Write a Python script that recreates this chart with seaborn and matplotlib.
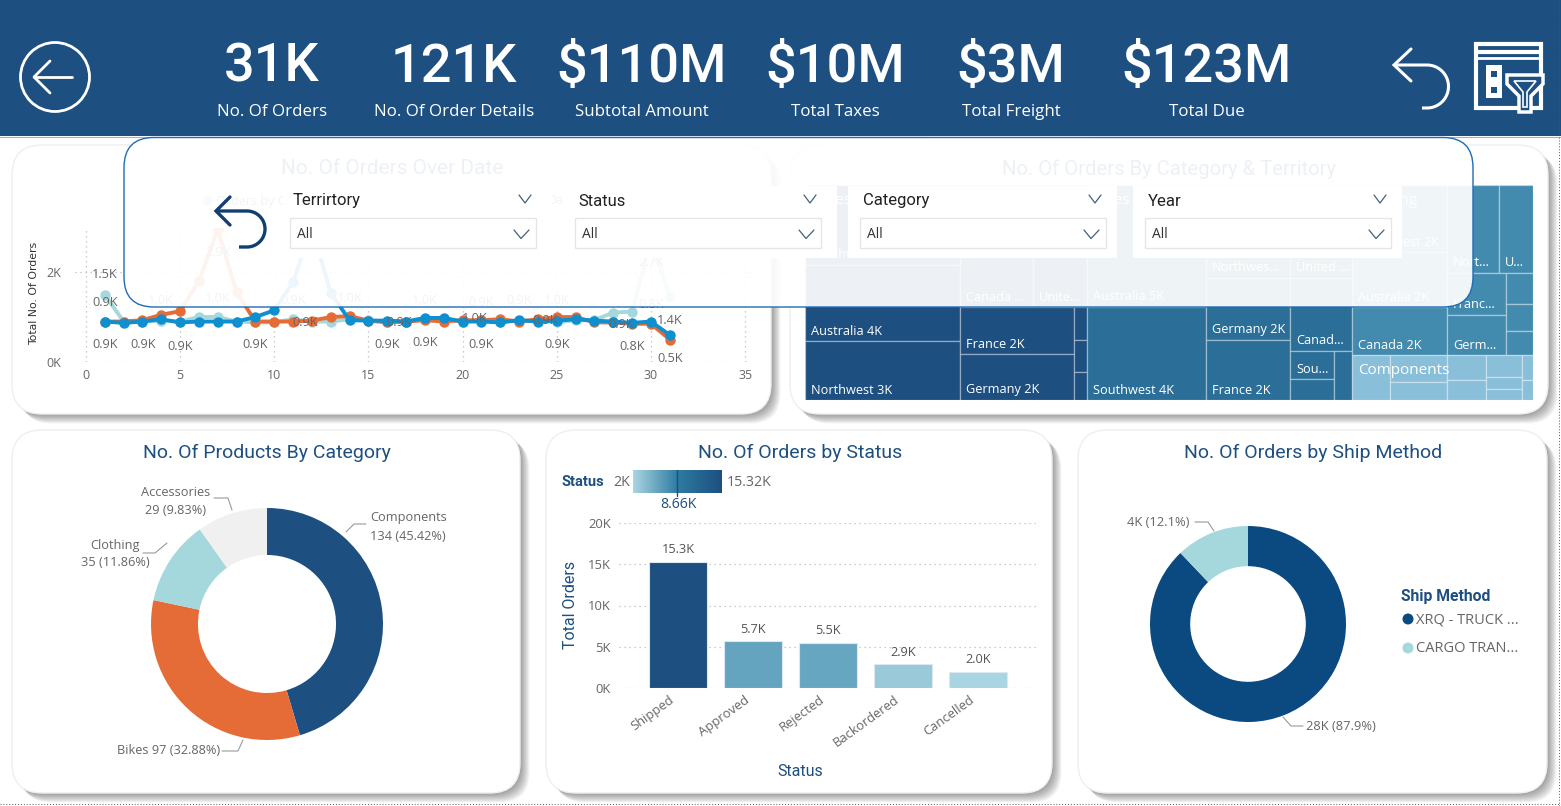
import numpy as np
import pandas as pd
import matplotlib
matplotlib.use("Agg")
import matplotlib.pyplot as plt
import seaborn as sns
from matplotlib.patches import FancyBboxPatch, Rectangle, Circle
from matplotlib.colors import LinearSegmentedColormap
from matplotlib.transforms import ScaledTranslation

W, H = 1561, 806
NAVY = "#1D4F80"
GREY = "#666666"
HEAD_FONT = "Roboto"
BODY_FONT = "Open Sans"

# KPI strip
kpi_values = ["31K", "121K", "$110M", "$10M", "$3M", "$123M"]
kpi_names = ["No. Of Orders", "No. Of Order Details", "Subtotal Amount", "Total Taxes", "Total Freight", "Total Due"]
kpi_x = [272, 454, 642, 835, 1011, 1207]

# orders per day of month
days = list(range(1, 32))
teal_orders = [1.5, .9, .9, .92, .9, 1.0, 1.0, .9, .88, .88, .95, .9, .9, .95, .93, .9, .9, .95, .95, .9, .93, .9, .92, .92, .88, .93, .93, 1.1, 1.12, 2.7, 1.45]
orange_orders = [.9, .9, .93, 1.05, 1.13, 1.8, 2.95, 1.55, .9, .9, .9, .92, 1.0, 1.02, .92, .88, .9, .93, .9, .93, .93, .95, .9, .95, 1.0, 1.0, .88, .88, .85, .85, .5]
blue_orders = [.9, .87, .9, .95, .88, .9, .9, .9, 1.0, 1.15, 1.78, 3.0, 1.53, .93, .92, .92, .9, .98, .98, .9, .9, .88, .93, .9, .92, .95, .92, .9, .87, .9, .6]
# label text, x pixel, y pixel
line_labels = [("1.5K", 105, 274), ("0.9K", 105, 303), ("1.0K", 161, 300), ("2.9K", 218, 253), ("1.0K", 218, 298),
               ("0.9K", 293, 300), ("1.0K", 350, 298), ("1.0K", 425, 300), ("0.9K", 481, 303), ("0.9K", 519, 301),
               ("1.0K", 557, 300), ("2.7K", 651, 262), ("0.8K", 651, 304), ("1.4K", 670, 320), ("0.9K", 305, 322),
               ("0.9K", 399, 322), ("1.0K", 475, 318), ("0.9K", 545, 321), ("0.9K", 621, 324), ("0.9K", 105, 344),
               ("0.9K", 143, 344), ("0.9K", 180, 346), ("0.9K", 255, 345), ("0.9K", 387, 345), ("0.9K", 425, 342),
               ("0.9K", 481, 345), ("0.9K", 557, 345), ("0.8K", 632, 347), ("0.5K", 670, 359)]

# treemap: "h"/"v" split with children, leaves are (label, orders)
accessories = ("h", [("v", [("Southwest 4K", 4133), ("Australia 4K", 3927), ("Northwest 3K", 3048)]),
                     ("v", [("h", [("Canada ...", 2969), ("Unite...", 2196)]),
                            ("h", [("v", [("France 2K", 1786), ("Germany 2K", 1748)]),
                                   ("v", [("", 143), ("", 139), ("", 121)])])])])
bikes = ("h", [("v", [("Australia 5K", 4839), ("Southwest 4K", 3689)]),
               ("v", [("h", [("Northwes...", 2604), ("United ...", 1922)]),
                      ("h", [("v", [("Germany 2K", 1736), ("France 2K", 1680)]),
                             ("v", [("Canad...", 1509),
                                    ("h", [("v", [("Sou...", 411), ("", 308)]), ("", 294)])])])])])
clothing = ("h", [("v", [("Northwest 2K", 2122), ("Australia 2K", 1742), ("Canada 2K", 1520)]),
                  ("v", [("h", [("Nort...", 1525), ("U...", 997)]),
                         ("h", [("v", [("Franc...", 826), ("Germ...", 787)]),
                                ("v", [("", 279), ("", 243), ("", 216)])])])])
components = ("h", [("", 570), ("v", [("", 513), ("", 342)]), ("v", [("", 325), ("", 260)]),
                    ("v", [("", 264), ("", 144), ("", 132)]), ("v", [("", 92), ("", 73)])])
tree_names = ["Acces", "Bikes", "Clothing", "Components"]
tree_colors = ["#1D4F80", "#2B6F98", "#438BAE", "#8ABFD9"]

# pies and bars
product_names = ["Components", "Bikes", "Clothing", "Accessories"]
product_counts = [134, 97, 35, 29]
product_colors = [NAVY, "#E66C37", "#A5D8DD", "#F0F0F0"]
status_names = ["Shipped", "Approved", "Rejected", "Backordered", "Cancelled"]
status_orders = [15320, 5700, 5500, 2900, 2000]
status_text = ["15.3K", "5.7K", "5.5K", "2.9K", "2.0K"]
status_colors = [NAVY, "#64A4BF", "#67A6C0", "#9AC9DA", "#A9D5E3"]
ship_orders = [27600, 3800]
ship_colors = ["#0B4A80", "#A5D8DD"]

sns.set_theme(style="white")
plt.rcParams["font.family"] = [BODY_FONT, "DejaVu Sans"]
fig = plt.figure(figsize=(W / 100, H / 100), dpi=100, facecolor="white")


def px_axes(left, top, right, bottom, z=1):
    ax = fig.add_axes([left / W, 1 - bottom / H, (right - left) / W, (bottom - top) / H], zorder=z)
    ax.patch.set_alpha(0)
    return ax


def layer(z):
    ax = px_axes(0, 0, W, H, z)
    ax.set_xlim(0, W)
    ax.set_ylim(H, 0)
    ax.axis("off")
    return ax


def card(ax, x0, y0, x1, y1, r=30):
    for i in range(12, 0, -1):
        ax.add_patch(FancyBboxPatch((x0 + i * .8, y0 + i * .8), x1 - x0, y1 - y0, boxstyle=f"round,pad=0,rounding_size={r}",
                                    fc="black", ec="none", alpha=.035))
    ax.add_patch(FancyBboxPatch((x0, y0), x1 - x0, y1 - y0, boxstyle=f"round,pad=0,rounding_size={r}",
                                fc="white", ec="#EFEFEF", lw=1))


def arc(cx, cy, r, a0, a1):
    t = np.radians(np.linspace(a0, a1, 40))
    return cx + r * np.cos(t), cy + r * np.sin(t)


def undo_arrow(ax, color, lw, tip, head_dx, head_dy, run, r, tail):
    x, y = tip
    ax.plot([x + head_dx, x, x + head_dx], [y - head_dy, y, y + head_dy], color=color, lw=lw, solid_capstyle="round", solid_joinstyle="miter")
    ax_, ay_ = arc(x + run, y + r, r, -90, 90)
    ax.plot(np.r_[x, ax_, x + run - tail], np.r_[y, ay_, y + 2 * r], color=color, lw=lw, solid_capstyle="butt")


bg = layer(0)
bg.add_patch(Rectangle((0, 0), W, 136, fc=NAVY, ec="none"))
bg.plot([0, 926], [136.5, 136.5], color="#9DB4CC", lw=.8)
bg.plot([1094, W], [136.5, 136.5], color="#9DB4CC", lw=.8)
bg.plot([W - 2, W - 2], [0, H], color="#555555", lw=.7, ls=(0, (1, 2)))
bg.plot([0, W], [H - 2, H - 2], color="#555555", lw=.7, ls=(0, (1, 2)))

for v, n, x in zip(kpi_values, kpi_names, kpi_x):
    bg.text(x, 67, v, color="white", ha="center", va="center", fontsize=39, family=HEAD_FONT, weight="medium")
    bg.text(x, 112, n, color="white", ha="center", va="center", fontsize=12.2)

# header icons
bg.add_patch(Circle((55, 77), 34.5, fc="none", ec="white", lw=2))
bg.plot([72, 34], [77, 77], color="white", lw=2)
bg.plot([50, 34, 50], [61, 77, 93], color="white", lw=2)
undo_arrow(bg, "white", 2.2, (1394, 65), 17, 16, 33, 21.5, 5)
bg.add_patch(Rectangle((1476, 44), 65, 64, fc="none", ec="white", lw=3))
bg.plot([1478, 1540], [52, 52], color="white", lw=3)
bg.plot([1478, 1540], [58, 58], color="white", lw=2)
bg.add_patch(Rectangle((1486, 65), 16, 33, fc="white", ec="none"))
bg.add_patch(Rectangle((1491, 71), 6, 6, fc=NAVY, ec="none"))
bg.add_patch(Rectangle((1491, 87), 6, 6, fc=NAVY, ec="none"))
bg.fill([1507, 1543, 1543, 1531, 1531, 1519, 1519, 1507], [75, 75, 84, 96, 112, 112, 96, 84], fc=NAVY, ec="white", lw=2.5, zorder=4)
bg.fill([1514, 1536, 1527, 1527, 1523, 1523], [81, 81, 92, 107, 107, 92], fc=NAVY, ec="white", lw=1.2, zorder=5)

card(bg, 12, 145, 771, 414)
card(bg, 790, 145, 1548, 414)
card(bg, 12, 430, 520, 793)
card(bg, 546, 430, 1052, 793)
card(bg, 1078, 430, 1547, 793)

title_kw = dict(color=NAVY, ha="center", va="center", family=HEAD_FONT)
bg.text(392, 169, "No. Of Orders Over Date", fontsize=15, **title_kw)
bg.text(1169, 169, "No. Of Orders By Category & Territory", fontsize=14.6, **title_kw)
bg.text(267, 453, "No. Of Products By Category", fontsize=14, **title_kw)
bg.text(800, 453, "No. Of Orders by Status", fontsize=14, **title_kw)
bg.text(1313, 453, "No. Of Orders by Ship Method", fontsize=14, **title_kw)

# line chart
ax = px_axes(75, 228, 753, 362)
for vals, col in [(teal_orders, "#A5D8DD"), (orange_orders, "#E66C37"), (blue_orders, "#0E8FD0")]:
    sns.lineplot(x=days, y=vals, ax=ax, color=col, lw=2.8, marker="o", markersize=7.5, markeredgewidth=0, zorder=3)
ax.set_xlim(-.58, 35.42)
ax.set_ylim(0, 2.98)
ax.set_xticks(range(0, 36, 5))
ax.set_yticks([0, 2], ["0K", "2K"])
ax.grid(True, color="#BBBBBB", ls=(0, (1, 3)), lw=.9)
sns.despine(ax=ax, left=True, bottom=True)
ax.tick_params(length=0, colors=GREY, labelsize=9)
ax.tick_params(axis="x", pad=5)
ax.tick_params(axis="y", pad=10)
bg.text(34, 293, "Total No. Of Orders", rotation=90, fontsize=7.8, family="DejaVu Sans", color="#333333", ha="center", va="center", zorder=1)

fg = layer(3)
for txt, x, y in line_labels:
    fg.text(x, y, txt, color=GREY, fontsize=9.2, ha="center", va="center")
# ghost legend, mostly behind the slicers
fg.add_patch(Circle((208, 201), 5, fc="#A5D8DD", ec="none"))
fg.text(216, 201, "Orders by C", color=GREY, fontsize=9, va="center")
fg.text(548, 201, "Da", color=GREY, fontsize=9, va="center")


# treemap, laid out from the order counts
def node_sum(node):
    return node[1] if not isinstance(node[1], list) else sum(node_sum(c) for c in node[1])


def layout(node, x, y, w, h, out):
    if not isinstance(node[1], list):
        out.append((node[0], x, y, w, h))
        return
    total = node_sum(node)
    for child in node[1]:
        share = node_sum(child) / total
        if node[0] == "h":
            layout(child, x, y, w * share, h, out)
            x += w * share
        else:
            layout(child, x, y, w, h * share, out)
            y += h * share


tm = px_axes(805, 185, 1533, 400)
tm.axis("off")
tm.set_xlim(0, 728)
tm.set_ylim(215, 0)
totals = [node_sum(n) for n in (accessories, bikes, clothing, components)]
scale_x = 728 / sum(totals)
right_w = (totals[2] + totals[3]) * scale_x
groups = [(accessories, 0, 0, totals[0] * scale_x, 215),
          (bikes, totals[0] * scale_x, 0, totals[1] * scale_x, 215),
          (clothing, 728 - right_w, 0, right_w, 215 * totals[2] / (totals[2] + totals[3])),
          (components, 728 - right_w, 215 * totals[2] / (totals[2] + totals[3]), right_w, 215 * totals[3] / (totals[2] + totals[3]))]
for (node, x, y, w, h), name, col in zip(groups, tree_names, tree_colors):
    cells = []
    layout(node, x, y, w, h, cells)
    for label, cx, cy, cw, ch in cells:
        tm.add_patch(Rectangle((cx, cy), cw, ch, fc=col, ec=(1, 1, 1, .3), lw=1))
        if label:
            tm.text(cx + 6, cy + ch - 10, label, color="white", fontsize=9.2, va="center")
    tm.text(x + 6, y + 15, name, color="white", fontsize=11, va="center")

# product donut
ax = px_axes(151, 508, 383, 740)
ax.pie(product_counts, colors=product_colors, startangle=90, counterclock=False, radius=1, wedgeprops=dict(width=.405, lw=0))
ax.set_xlim(-1, 1)
ax.set_ylim(-1, 1)
for txt, x, y, ha in [("Components", 370, 518, "left"), ("134 (45.42%)", 370, 536, "left"), ("Accessories", 176, 492, "center"),
                      ("29 (9.83%)", 176, 510, "center"), ("Clothing", 115, 545, "center"), ("35 (11.86%)", 115, 563, "center"),
                      ("Bikes 97 (32.88%)", 117, 751, "left")]:
    fg.text(x, y, txt, color=GREY, fontsize=9.2, ha=ha, va="center")
for xs, ys in [([346, 354, 366], [532, 524, 524]), ([214, 228, 232], [498, 498, 510]),
               ([143, 155, 167], [553, 553, 543]), ([222, 238, 243], [751, 751, 740])]:
    fg.plot(xs, ys, color="#999999", lw=.8)

# status bars
df_status = pd.DataFrame({"Status": status_names, "Orders": status_orders})
ax = px_axes(619, 523, 1037, 688)
sns.barplot(data=df_status, x="Status", y="Orders", hue="Status", palette=status_colors, legend=False, width=.78, ax=ax, saturation=1, edgecolor="#DCE8F0", linewidth=.8, zorder=3)
ax.set_xlim(-.787, 4.787)
ax.set_ylim(0, 20000)
ax.set_yticks([0, 5000, 10000, 15000, 20000], ["0K", "5K", "10K", "15K", "20K"])
ax.set_xticks(range(5), status_names, rotation=36, ha="right", rotation_mode="anchor", fontsize=9.2, color="#555555")
ax.grid(True, axis="y", color="#BBBBBB", ls=(0, (1, 3)), lw=.9)
ax.grid(False, axis="x")
sns.despine(ax=ax, left=True, bottom=True)
ax.tick_params(length=0, colors=GREY, labelsize=9.4, pad=6)
ax.set_xlabel("")
ax.set_ylabel("")
shift = ScaledTranslation(-9 / 100, 3 / 100, fig.dpi_scale_trans)
for lab in ax.get_xticklabels():
    lab.set_transform(lab.get_transform() + shift)
for i, (v, t) in enumerate(zip(status_orders, status_text)):
    ax.text(i, v + 650, t, color="#555555", ha="center", va="bottom", fontsize=9.2)
fg.text(800, 771, "Status", color=NAVY, fontsize=11.5, family=HEAD_FONT, ha="center", va="center")
fg.text(571, 605, "Total Orders", color=NAVY, fontsize=11.5, family=HEAD_FONT, rotation=90, ha="center", va="center")

fg.text(562, 482, "Status", color=NAVY, fontsize=10.5, weight="bold", family=HEAD_FONT, va="center")
fg.text(630, 482, "2K", color=GREY, fontsize=10.2, ha="right", va="center")
fg.text(727, 482, "15.32K", color=GREY, fontsize=10.2, ha="left", va="center")
fg.text(678, 504, "8.66K", color=NAVY, fontsize=10.2, ha="center", va="center")
cmap = LinearSegmentedColormap.from_list("status", ["#ABD5E3", "#2E7CA2", NAVY])
grad = px_axes(633, 470, 722, 493, 2)
grad.imshow(np.linspace(0, 1, 200).reshape(1, -1), cmap=cmap, aspect="auto")
grad.axis("off")
fg.plot([677.5, 677.5], [470, 496], color=NAVY, lw=1)

# ship method donut
ax = px_axes(1150, 526, 1346, 722)
ax.pie(ship_orders, colors=ship_colors, startangle=90, counterclock=False, radius=1, wedgeprops=dict(width=.41, lw=0))
ax.set_xlim(-1, 1)
ax.set_ylim(-1, 1)
fg.text(1127, 522, "4K (12.1%)", color=GREY, fontsize=9.3, va="center")
fg.text(1306, 726, "28K (87.9%)", color=GREY, fontsize=9.3, va="center")
fg.plot([1195, 1208, 1214], [522, 522, 531], color="#999999", lw=.8)
fg.plot([1303, 1291, 1283], [726, 726, 717], color="#999999", lw=.8)
fg.text(1401, 596, "Ship Method", color=NAVY, fontsize=11.3, weight="bold", family=HEAD_FONT, va="center")
fg.add_patch(Circle((1408, 619), 5.5, fc=ship_colors[0], ec="none"))
fg.add_patch(Circle((1408, 648), 5.5, fc=ship_colors[1], ec="none"))
fg.text(1416, 620, "XRQ - TRUCK ...", color=GREY, fontsize=10.5, va="center")
fg.text(1416, 649, "CARGO TRAN...", color=GREY, fontsize=10.5, va="center")

# filter panel on top of everything
top = layer(10)
top.add_patch(FancyBboxPatch((124, 137.5), 1349, 169.5, boxstyle="round,pad=0,rounding_size=30", fc=(1, 1, 1, .925), ec="#1F6CB5", lw=1))
undo_arrow(top, "#123F72", 2.4, (216, 211), 14, 14, 31, 18, 8)
slicer_names = ["Terrirtory", "Status", "Category", "Year"]
slicer_card_x = [283, 568, 848, 1133]
slicer_box_x = [290, 575, 860, 1145]
for name, x, bx in zip(slicer_names, slicer_card_x, slicer_box_x):
    top.add_patch(Rectangle((x, 186), 269, 72, fc="white", ec="none"))
    top.add_patch(Rectangle((bx, 218), 246, 30, fc="white", ec="#E6E6E6", lw=1))
    top.text(bx + 3, 201, name, color="#222222", fontsize=12, family=HEAD_FONT, va="center")
    top.text(bx + 7, 235, "All", color="#333333", fontsize=10, va="center")
    top.plot([bx + 224, bx + 231, bx + 239], [230, 238.5, 230], color="#44607F", lw=.9)
    top.plot([bx + 229, bx + 235, bx + 241], [195, 203, 195], color="#44607F", lw=.9)

fig.savefig("out.png", dpi=100)
